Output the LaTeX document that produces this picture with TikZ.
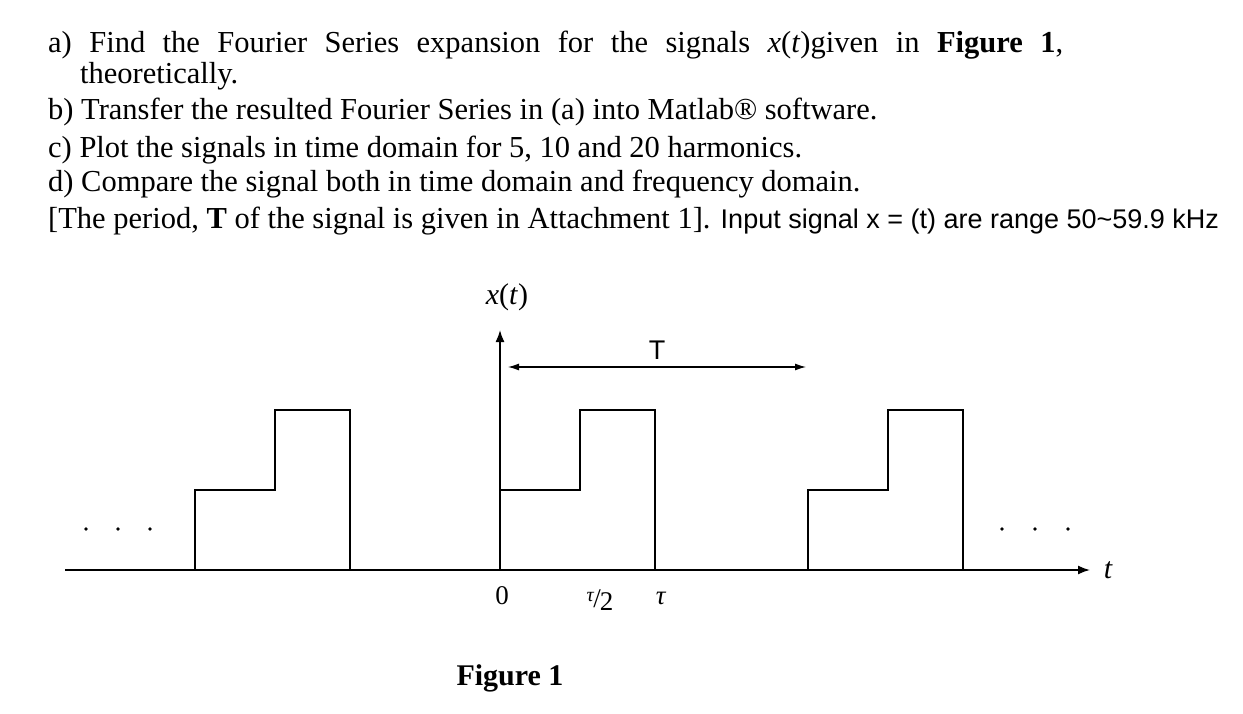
\documentclass[tikz,border=0pt]{standalone}
\usepackage{fontspec}
\setmainfont{Liberation Serif}
\newfontfamily\arialf{Liberation Sans}
\usetikzlibrary{arrows.meta}
\begin{document}
\begin{tikzpicture}[x=1pt,y=-1pt,
  txt/.style={anchor=west,inner sep=0pt,font=\fontsize{30.5}{34}\selectfont},
  sig/.style={line width=1.6pt},
  ax/.style={line width=1.6pt,-{Latex[length=12pt,width=9pt]}}]
\useasboundingbox (0,0) rectangle (1243,714);
\fill[white] (0,0) rectangle (1243,714);
\node[txt] (la) at (48,45) {\makebox[1015pt][s]{a) Find the Fourier Series expansion for the signals \textit{x}(\textit{t})given in \textbf{Figure 1},}};
\node[txt] (la2) at (80,76) {theoretically.};
\node[txt] (lb) at (48,112) {b) Transfer the resulted Fourier Series in (a) into Matlab® software.};
\node[txt] (lc) at (48,150) {c) Plot the signals in time domain for 5, 10 and 20 harmonics.};
\node[txt] (ld) at (48,184) {d) Compare the signal both in time domain and frequency domain.};
\node[txt] (le) at (48,221) {[The period, \textbf{T} of the signal is given in Attachment 1]. {\arialf\fontsize{27}{30}\selectfont Input signal x = (t) are range 50\textasciitilde59.9 kHz}};
% axes
\coordinate (xs) at (65,570); \coordinate (xe) at (1090,570);
\draw[ax] (xs) -- (xe);
\node[font=\fontsize{30}{34}\selectfont\itshape] (tl) at (1108,570) {t};
\coordinate (ys) at (500,570); \coordinate (ye) at (500,330);
\draw[ax] (ys) -- (ye);
\node[font=\fontsize{30}{34}\selectfont] (xl) at (507,297) {\textit{x}(\textit{t})};
\coordinate (ta) at (508,367); \coordinate (tb) at (806,367);
\draw[line width=1.2pt,{Latex[length=11pt,width=7pt]}-{Latex[length=11pt,width=7pt]}] (ta) -- (tb);
\node[font=\arialf\fontsize{27}{30}\selectfont] (Tl) at (657,350) {T};
% pulses
\foreach \b in {195,500,808}{
  \draw[sig] (\b,570) -- (\b,490) -- (\b+80,490) -- (\b+80,410) -- (\b+155,410) -- (\b+155,570);
}
\foreach \x in {86,118,150,1002,1035,1068}{\fill (\x,529) circle (1.8pt);}
\node[font=\fontsize{27}{30}\selectfont] (z) at (502,596) {0};
\node[font=\fontsize{27}{30}\selectfont] (th) at (600,600) {\raisebox{6pt}{\fontsize{20}{22}\selectfont\textit{τ}}\kern-1pt/\kern-1pt\raisebox{-3pt}{2}};
\node[font=\fontsize{27}{30}\selectfont] (tt) at (661,598) {\textit{τ}};
\node[font=\fontsize{30}{34}\selectfont\bfseries] (fig) at (510,678) {Figure 1};
\end{tikzpicture}
\end{document}
